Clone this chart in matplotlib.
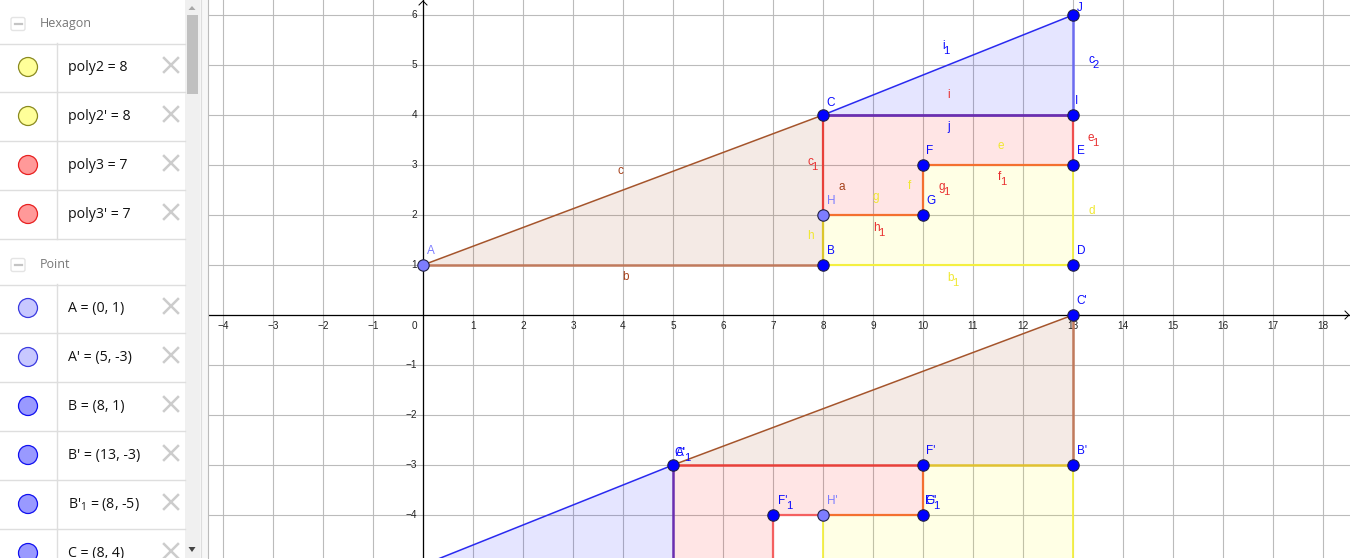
# GeoGebra 화면 재현: 왼쪽 대수창 + 오른쪽 그래픽 창
import matplotlib
matplotlib.use("Agg")
import matplotlib.pyplot as plt
from matplotlib.patches import Circle, Polygon, Rectangle, FancyBboxPatch

plt.rcParams["font.family"] = ["Liberation Sans", "DejaVu Sans"]
plt.rcParams["mathtext.default"] = "regular"

# 점 좌표
A = (0, 1); B = (8, 1); C = (8, 4); D = (13, 1); E = (13, 3); F = (10, 3)
G = (10, 2); H = (8, 2); I = (13, 4); J = (13, 6)
A2 = (5, -3); B2 = (13, -3); C2 = (13, 0); F2 = (10, -3); G2 = (10, -4)
H2 = (8, -4); F21 = (7, -4); B21 = (8, -5); J2 = (0, -5)
I2 = (5, -5); K2 = (7, -6); L2 = (5, -6); D2 = (13, -5)

# 채운 다각형: (꼭짓점, 색)
BROWN, RED, YELLOW, BLUE = "#993300", "#ff0000", "#ffff00", "#0000ff"
polys = [
    ([A, C, B], BROWN),
    ([C, I, E, F, G, H], RED),
    ([H, G, F, E, D, B], YELLOW),
    ([C, J, I], BLUE),
    ([A2, C2, B2], BROWN),
    ([A2, F2, G2, F21, K2, L2], RED),
    ([F2, B2, D2, B21, H2, G2], YELLOW),
    ([A2, I2, J2], BLUE),
]

# 선분: (시작, 끝, 색, 두께)
segments = [
    (A, C, "#a5552c", 1.1), (A, B, "#c07a5c", 1.8),
    (C, H, "#e8403a", 1.6), (H, B, "#dcc62c", 1.6),
    (C, I, "#6a2fb0", 2.0), (C, J, "#2a2af0", 1.1), (J, I, "#6c6cf0", 1.8),
    (I, E, "#f05050", 1.6), (E, D, "#f4f040", 1.3), (D, B, "#f4f040", 1.5),
    (F, E, "#f47030", 1.6), (F, G, "#f47030", 1.6), (H, G, "#f47030", 1.6),
    (A2, C2, "#a5552c", 1.1), (C2, B2, "#c07a5c", 1.8),
    (A2, F2, "#e8403a", 1.8), (F2, B2, "#e0c230", 1.8),
    (B2, D2, "#f4f040", 1.3), (F2, G2, "#f47030", 1.6), (H2, G2, "#f47030", 1.6),
    (F21, H2, "#f46060", 1.6), (F21, K2, "#f46060", 1.6), (H2, B21, "#f4f040", 1.3),
    (A2, I2, "#6a2fb0", 1.8), (A2, J2, "#2a2af0", 1.1),
]

dark_points = [B, C, D, E, F, G, I, J, C2, A2, F2, B2, F21, G2]
light_points = [A, H, H2]

# 점 이름: (x, y, 글자, 아래첨자, 색)
PT = "#0a0aff"
LT = "#7a7aff"
point_labels = [
    (13.14, 6.14, "J", "", PT), (8.16, 4.24, "C", "", PT), (13.08, 4.28, "I", "", PT),
    (10.14, 3.28, "F", "", PT), (13.16, 3.28, "E", "", PT), (8.16, 2.28, "H", "", LT),
    (10.16, 2.28, "G", "", PT), (8.16, 1.28, "B", "", PT), (13.16, 1.28, "D", "", PT),
    (0.16, 1.28, "A", "", LT), (13.18, 0.28, "C'", "", PT),
    (5.16, -2.76, "A'", "", PT), (5.14, -2.76, "C'", "1", PT),
    (10.16, -2.72, "F'", "", PT), (13.18, -2.72, "B'", "", PT),
    (7.2, -3.72, "F'", "1", PT), (8.18, -3.72, "H'", "", LT),
    (10.16, -3.72, "G'", "", PT), (10.14, -3.72, "E'", "1", PT),
]

# 선분 이름
edge_labels = [
    (10.41, 5.38, "i", "1", PT), (13.36, 5.1, "c", "2", PT), (10.52, 4.4, "i", "", "#e83030"),
    (10.52, 3.76, "j", "", PT), (11.56, 3.38, "e", "", "#f0e830"), (13.36, 3.54, "e", "1", "#e83030"),
    (7.74, 3.06, "c", "1", "#e83030"), (8.38, 2.56, "a", "", "#a5401a"),
    (9.06, 2.36, "g", "", "#f0e830"), (9.72, 2.58, "f", "", "#f0e830"),
    (10.38, 2.56, "g", "1", "#e83030"), (11.54, 2.76, "f", "1", "#e83030"),
    (9.06, 1.74, "h", "1", "#e83030"), (7.74, 1.58, "h", "", "#f0e830"),
    (13.38, 2.08, "d", "", "#f0e830"), (10.56, 0.74, "b", "1", "#f0e830"),
    (4.06, 0.76, "b", "", "#a5401a"), (3.94, 2.88, "c", "", "#a5401a"),
]

x_ticks = [t for t in range(-4, 19) if t != 0]
y_ticks = [t for t in range(-4, 7) if t != 0]

hexagon_rows = [
    ("poly2 = 8", "#ffff99", "#8a8a20"),
    ("poly2' = 8", "#ffff99", "#8a8a20"),
    ("poly3 = 7", "#ff9999", "#e82020"),
    ("poly3' = 7", "#ff9999", "#e82020"),
]
point_rows = [
    ("A = (0, 1)", "#c8c8ff", "#3a3ae0"),
    ("A' = (5, -3)", "#c8c8ff", "#3a3ae0"),
    ("B = (8, 1)", "#9999ff", "#1010f0"),
    ("B' = (13, -3)", "#9999ff", "#1010f0"),
    ("B'$_1$ = (8, -5)", "#9999ff", "#1010f0"),
    ("C = (8, 4)", "#9999ff", "#1010f0"),
]

W, H_PX = 1352, 560
RIGHT, BOTTOM = 1350, 558
fig = plt.figure(figsize=(W / 100, H_PX / 100), dpi=100, facecolor="white")

# 왼쪽 패널 (픽셀 좌표)
side = fig.add_axes([0, 0, 1, 1])
side.set_xlim(0, W)
side.set_ylim(H_PX, 0)
side.axis("off")
LINE = "#dedede"


def header(y, name):
    side.add_patch(FancyBboxPatch((11, y - 6.5), 14, 13, boxstyle="round,pad=0,rounding_size=2",
                                  fc="white", ec="#e4e4e4", lw=1))
    side.plot([14.5, 21.5], [y, y], color="#c4c4c4", lw=1.6)
    side.text(40, y, name, fontsize=9, color="#777777", va="center", family="Open Sans")


def row(y, text, fc, ec):
    side.plot([0, 185], [y + 24.5, y + 24.5], color=LINE, lw=1)
    side.plot([56.5, 56.5], [y - 24.5, y + 24.5], color=LINE, lw=1)
    side.add_patch(Circle((28, y), 9.5, fc=fc, ec=ec, lw=0.9))
    side.text(68, y + 0.5, text, fontsize=10.2, color="#111111", va="center", family="Open Sans")
    side.plot([164, 178], [y - 9, y + 5], color="#cccccc", lw=1.8)
    side.plot([164, 178], [y + 5, y - 9], color="#cccccc", lw=1.8)


header(24, "Hexagon")
side.plot([0, 185], [44, 44], color=LINE, lw=1)
for i, (txt, fc, ec) in enumerate(hexagon_rows):
    row(67 + 49 * i, txt, fc, ec)
header(265, "Point")
side.plot([0, 185], [285, 285], color=LINE, lw=1)
for i, (txt, fc, ec) in enumerate(point_rows):
    row(308 + 49 * i, txt, fc, ec)

# 스크롤바
side.add_patch(Rectangle((185, 0), 15, H_PX, fc="#f0f0f0", ec="none"))
side.add_patch(Rectangle((187, 15), 11, 79, fc="#c0c0c0", ec="none"))
side.add_patch(Polygon([(188.5, 10), (195.5, 10), (192, 6)], fc="#a8a8a8", ec="none"))
side.add_patch(Polygon([(188.5, 547), (195.5, 547), (192, 552)], fc="#444444", ec="none"))
side.add_patch(Rectangle((200, 0), 8, H_PX, fc="#f7f7f7", ec="none"))
side.plot([200.5, 200.5], [0, H_PX], color="#dddddd", lw=0.8)
side.add_patch(Rectangle((0, BOTTOM), W, H_PX - BOTTOM, fc="white", ec="none", zorder=10))

# 그래픽 창
ax = fig.add_axes([208 / W, (H_PX - BOTTOM) / H_PX, (RIGHT - 208) / W, BOTTOM / H_PX])
ax.set_xlim((208 - 423) / 50, (RIGHT - 423) / 50)
ax.set_ylim((315 - BOTTOM) / 50, 315 / 50)
ax.set_xticks([])
ax.set_yticks([])
for name, sp in ax.spines.items():
    sp.set_visible(name == "left")
ax.spines["left"].set_color("#bbbbbb")
ax.spines["left"].set_linewidth(0.8)

for t in range(-4, 19):
    ax.axvline(t, color="#bbbbbb", lw=0.8, zorder=1)
for t in range(-4, 7):
    ax.axhline(t, color="#bbbbbb", lw=0.8, zorder=1)
ax.axhline(0, color="black", lw=0.9, zorder=2)
ax.axvline(0, color="black", lw=0.9, zorder=2)

# 축 화살표
x_end, y_end = ax.get_xlim()[1], ax.get_ylim()[1]
ax.plot([x_end - 0.1, x_end - 0.02, x_end - 0.1], [0.08, 0, -0.08], color="black", lw=0.7, zorder=2)
ax.plot([-0.08, 0, 0.08], [y_end - 0.1, y_end - 0.02, y_end - 0.1], color="black", lw=0.7, zorder=2)

for t in x_ticks:
    label = str(t).replace("-", "\u2212")
    ax.text(t, -0.22, label, fontsize=7.2, ha="center", va="center", color="#222222", zorder=3)
ax.text(-0.17, -0.22, "0", fontsize=7.2, ha="center", va="center", color="#222222", zorder=3)
for t in y_ticks:
    label = str(t).replace("-", "\u2212")
    ax.text(-0.12, t, label, fontsize=7.2, ha="right", va="center", color="#222222", zorder=3)

for verts, col in polys:
    ax.add_patch(Polygon(verts, closed=True, fc=col, ec="none", alpha=0.1, zorder=3))

for p, q, col, lw in segments:
    ax.plot([p[0], q[0]], [p[1], q[1]], color=col, lw=lw, zorder=4, solid_capstyle="butt")

for pts, col in [(dark_points, "#0000ff"), (light_points, "#7d7dff")]:
    ax.plot([p[0] for p in pts], [p[1] for p in pts], "o", ms=8.2, mfc=col,
            mec="#222244", mew=0.8, ls="none", zorder=5)

# 아래첨자는 글자 크기를 거의 줄이지 않고 오른쪽 아래에 붙인다
for x, y, s, sub, col in point_labels + edge_labels:
    t = ax.text(x, y, s, fontsize=8.5, color=col, ha="center", va="center", zorder=6)
    if sub:
        ax.annotate(sub, xy=(1, 0), xycoords=t, xytext=(-1.2, -3), textcoords="offset points",
                    fontsize=8, color=col, ha="left", va="bottom", zorder=6)

fig.savefig("out.png", dpi=100)
